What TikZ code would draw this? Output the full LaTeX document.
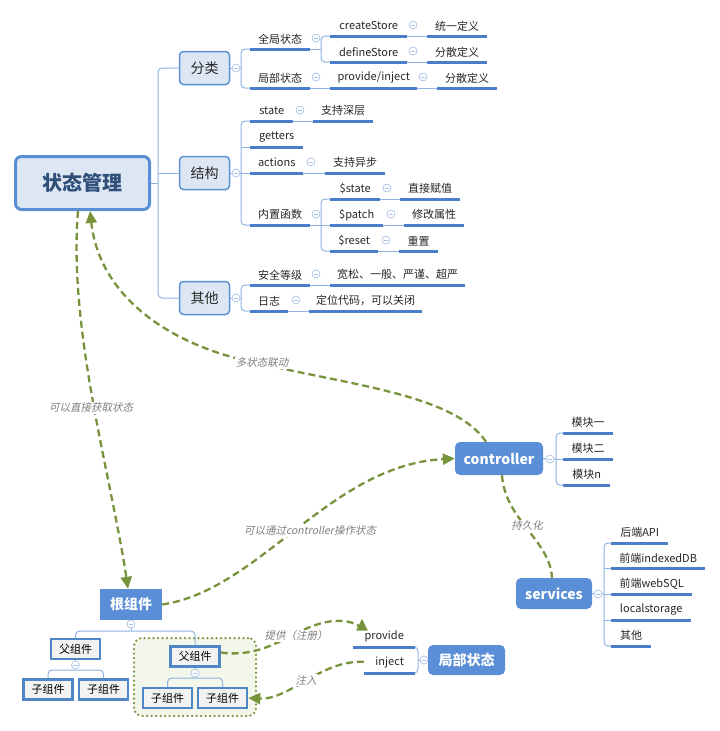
\documentclass[tikz,border=0pt]{standalone}
\usepackage{fontspec}
\setmainfont{Noto Sans CJK SC}
\newfontfamily\lblfont{Noto Sans CJK SC}[FakeSlant=0.2]
\usetikzlibrary{arrows.meta}
\definecolor{tcc}{HTML}{8DB3E2}
\definecolor{ulc}{HTML}{4A7EC8}
\definecolor{nodeblue}{HTML}{5A8ED6}
\definecolor{mainborder}{HTML}{5B8FD4}
\definecolor{lightfill}{HTML}{DDE7F4}
\definecolor{greenc}{HTML}{77933C}
\definecolor{grpfill}{HTML}{F3F6EA}
\definecolor{txtc}{HTML}{262626}
\definecolor{titlec}{HTML}{2F4E78}
\definecolor{collc}{HTML}{A9C1E8}
\definecolor{lblc}{HTML}{7F7F7F}
\definecolor{boxfill}{HTML}{F2F2F2}
\definecolor{boxborder}{HTML}{4F86C6}
\tikzset{
  tc/.style={draw=tcc, line width=1pt, rounded corners=4pt},
  ul/.style={draw=ulc, line width=3pt},
  leaf/.style={anchor=south west, inner sep=0pt, minimum height=20pt, font=\fontsize{11}{13}\selectfont, text=txtc},
  coll/.style={circle, draw=collc, fill=white, line width=0.7pt, minimum size=8pt, inner sep=0pt,
    path picture={\draw[collc, line width=0.7pt] ([xshift=-2.2pt]path picture bounding box.center) -- ([xshift=2.2pt]path picture bounding box.center);}},
  mainnode/.style={draw=mainborder, line width=3pt, fill=lightfill, rounded corners=6pt, minimum width=134pt, minimum height=53pt, inner sep=0pt, font=\fontsize{20}{24}\selectfont\bfseries, text=titlec},
  lvl1/.style={draw=mainborder, line width=1.5pt, fill=lightfill, rounded corners=4pt, minimum width=50pt, minimum height=33pt, inner sep=0pt, font=\fontsize{14}{16}\selectfont, text=txtc},
  bluenode/.style={fill=nodeblue, rounded corners=5pt, inner sep=0pt, font=\fontsize{14}{16}\selectfont\bfseries, text=white},
  gennode/.style={fill=nodeblue, inner sep=0pt, minimum width=62pt, minimum height=31pt, font=\fontsize{14}{16}\selectfont\bfseries, text=white},
  compbox/.style={draw=boxborder, line width=2.5pt, fill=boxfill, minimum width=49pt, minimum height=20pt, inner sep=0pt, font=\fontsize{11}{13}\selectfont, text=black},
  grp/.style={draw=greenc, line width=2.5pt, dash pattern=on 0pt off 4.5pt, line cap=round, fill=grpfill, rounded corners=8pt, minimum width=122pt, minimum height=78pt},
  gc/.style={draw=greenc, line width=2.3pt, dash pattern=on 7pt off 4pt},
  arr/.style={-{Triangle[length=12pt,width=11pt]}},
  lbl/.style={font=\lblfont\fontsize{10.5}{12}\selectfont, text=lblc, fill=white, inner sep=1pt}
}
\newcommand\leaf[5]{\node[leaf, minimum width={#3-#2}] (#1) at (#2,#4) {#5};}
\newcommand\uline[1]{\draw[ul] (#1.south west) -- (#1.south east);}
\begin{document}
\begin{tikzpicture}[x=1pt,y=-1pt]
\useasboundingbox (0,0) rectangle (720,731);
% main nodes
\node[mainnode] (sm) at (82.5,183) {状态管理};
\node[lvl1] (fl) at (204.5,68) {分类};
\node[lvl1] (jg) at (204.5,173) {结构};
\node[lvl1] (qt) at (204.5,298) {其他};
\node[bluenode, minimum width=88pt, minimum height=33pt] (ctl) at (499,458.5) {controller};
\node[bluenode, minimum width=76pt, minimum height=31pt] (sv) at (554,593.5) {services};
\node[bluenode, minimum width=77pt, minimum height=30pt] (jz) at (466.5,660) {局部状态};
% group box
\node[grp] (grpbox) at (195,677) {};
% leaves
\leaf{qj}{250}{310}{49}{全局状态}
\leaf{jb}{250}{310}{88}{局部状态}
\leaf{cs}{330}{407}{36}{createStore}
\leaf{ds}{330}{407}{62}{defineStore}
\leaf{pi}{330}{417}{88}{provide/inject}
\leaf{ty}{427}{487}{36}{统一定义}
\leaf{fa}{427}{487}{62}{分散定义}
\leaf{fb}{437}{497}{88}{分散定义}
\leaf{st}{250}{293}{121}{state}
\leaf{zc}{313}{373}{121}{支持深层}
\leaf{gt}{250}{303}{147}{getters}
\leaf{ac}{250}{303}{173}{actions}
\leaf{zy}{325}{385}{173}{支持异步}
\leaf{nz}{250}{310}{225}{内置函数}
\leaf{sa}{330}{380}{199}{\$state}
\leaf{zj}{400}{460}{199}{直接赋值}
\leaf{sb}{330}{383}{225}{\$patch}
\leaf{xg}{404}{464}{225}{修改属性}
\leaf{sc}{330}{378}{251}{\$reset}
\leaf{cz}{399}{438}{251}{重置}
\leaf{aq}{250}{310}{285}{安全等级}
\leaf{ks}{330}{465}{285}{宽松、一般、严谨、超严}
\leaf{rz}{250}{288}{311}{日志}
\leaf{dw}{309}{422}{311}{定位代码，可以关闭}
\leaf{ma}{563}{613}{433}{模块一}
\leaf{mb}{563}{613}{459}{模块二}
\leaf{mn}{563}{610}{485}{模块n}
\leaf{ha}{611}{668}{543}{后端API}
\leaf{hb}{611}{705}{568}{前端indexedDB}
\leaf{hc}{611}{692}{594}{前端webSQL}
\leaf{hd}{611}{691}{620}{localstorage}
\leaf{he}{611}{651}{646}{其他}
\leaf{pv}{353}{415}{647}{provide}
\leaf{ij}{364}{415}{673}{inject}
% tree components
\node[gennode] (gen) at (131,604.5) {根组件};
\node[compbox] (f1) at (75.5,649) {父组件};
\node[compbox] (z1) at (48,689.5) {子组件};
\node[compbox] (z2) at (103.5,689.5) {子组件};
\node[compbox] (f2) at (195,656.5) {父组件};
\node[compbox] (z3) at (167.5,698) {子组件};
\node[compbox] (z4) at (222.5,698) {子组件};
% thin connectors
\draw[tc] (fl.west) -| (158,183) |- (qt.west);
\draw[tc] (sm.east) -- (158,183);
\draw[tc] (158,173) -- (jg.west);
\draw[tc] (fl.east) -- (241,68);
\draw[tc] (qj.south west) -| (241,68) |- (jb.south west);
\draw[tc] (qj.south east) -- (321,49);
\draw[tc] (cs.south west) -| (321,49) |- (ds.south west);
\draw[tc] (cs.south east) -- (ty.south west);
\draw[tc] (ds.south east) -- (fa.south west);
\draw[tc] (jb.south east) -- (pi.south west);
\draw[tc] (pi.south east) -- (fb.south west);
\draw[tc] (jg.east) -- (241,173);
\draw[tc] (st.south west) -| (241,173) |- (nz.south west);
\draw[tc] (gt.south west) -- (241,147);
\draw[tc] (ac.south west) -- (241,173);
\draw[tc] (st.south east) -- (zc.south west);
\draw[tc] (ac.south east) -- (zy.south west);
\draw[tc] (nz.south east) -- (321,225);
\draw[tc] (sa.south west) -| (321,225) |- (sc.south west);
\draw[tc] (sb.south west) -- (321,225);
\draw[tc] (sa.south east) -- (zj.south west);
\draw[tc] (sb.south east) -- (xg.south west);
\draw[tc] (sc.south east) -- (cz.south west);
\draw[tc] (qt.east) -- (241,298);
\draw[tc] (aq.south west) -| (241,298) |- (rz.south west);
\draw[tc] (aq.south east) -- (ks.south west);
\draw[tc] (rz.south east) -- (dw.south west);
\draw[tc] (ctl.east) -- (556,459);
\draw[tc] (ma.south west) -| (556,459) |- (mn.south west);
\draw[tc] (mb.south west) -- (556,459);
\draw[tc] (sv.east) -- (604,594);
\draw[tc] (ha.south west) -| (604,594) |- (he.south west);
\draw[tc] (hb.south west) -- (604,568);
\draw[tc] (hc.south west) -- (604,594);
\draw[tc] (hd.south west) -- (604,620);
\draw[tc] (jz.west) -- (418,660);
\draw[tc] (pv.south east) -| (418,660) |- (ij.south east);
\draw[tc] (gen.south) -- (131,631);
\draw[tc] (f1.north) |- (131,631) -| (f2.north);
\draw[tc] (f1.south) -- (75.5,670);
\draw[tc] (z1.north) |- (75.5,670) -| (z2.north);
\draw[tc] (f2.south) -- (195,678);
\draw[tc] (z3.north) |- (195,678) -| (z4.north);
% underlines
\foreach \n in {qj,jb,cs,ds,pi,ty,fa,fb,st,zc,gt,ac,zy,nz,sa,zj,sb,xg,sc,cz,aq,ks,rz,dw,ma,mb,mn,ha,hb,hc,hd,he,pv,ij} {\uline{\n}}
% collapse markers
\node[coll] (k1) at (236,68) {};
\node[coll] (k2) at (236,173) {};
\node[coll] (k3) at (236,298) {};
\node[coll] (k4) at (316,38) {};
\node[coll] (k5) at (316,77) {};
\node[coll] (k6) at (413,25) {};
\node[coll] (k7) at (413,51) {};
\node[coll] (k8) at (423,77) {};
\node[coll] (k9) at (300,110) {};
\node[coll] (k10) at (311,162) {};
\node[coll] (k11) at (316,214) {};
\node[coll] (k12) at (387,188) {};
\node[coll] (k13) at (391,214) {};
\node[coll] (k14) at (386,240) {};
\node[coll] (k15) at (316,274) {};
\node[coll] (k16) at (296,300) {};
\node[coll] (k17) at (550,459) {};
\node[coll] (k18) at (598,594) {};
\node[coll] (k19) at (424,660) {};
\node[coll] (k20) at (131,624) {};
\node[coll] (k21) at (75.5,665) {};
\node[coll] (k22) at (195,673) {};
% green relation lines
\draw[gc,arr] ([xshift=-4.5pt]sm.south) .. controls (68,330) and (112,480) .. ([xshift=-3pt]gen.north);
\draw[gc,arr] ([xshift=-13pt]ctl.north) .. controls (455,395) and (350,385) .. (262,364) .. controls (175,348) and (100,300) .. ([xshift=7.5pt]sm.south);
\draw[gc,arr] (gen.east) .. controls (260,590) and (330,465) .. (ctl.west);
\draw[gc] ([xshift=3pt]ctl.south) .. controls (505,520) and (550,540) .. ([xshift=-2pt]sv.north);
\coordinate (pvtip) at ([xshift=9pt,yshift=8pt]pv.north west);
\draw[gc,arr] ([yshift=4pt]f2.east) .. controls (275,660) and (300,618) .. (343,621) .. controls (356,622) and (362,628) .. (pvtip);
\draw[gc,arr] ([yshift=1pt]ij.west) .. controls (320,660) and (290,700) .. (z4.east);
% labels
\node[lbl] (l1) at (91,408) {可以直接获取状态};
\node[lbl] (l2) at (262,363) {多状态联动};
\node[lbl] (l3) at (310,531) {可以通过controller操作状态};
\node[lbl] (l4) at (527,526) {持久化};
\node[lbl] (l5) at (296,636) {提供（注册）};
\node[lbl] (l6) at (306,680) {注入};
\end{tikzpicture}
\end{document}
